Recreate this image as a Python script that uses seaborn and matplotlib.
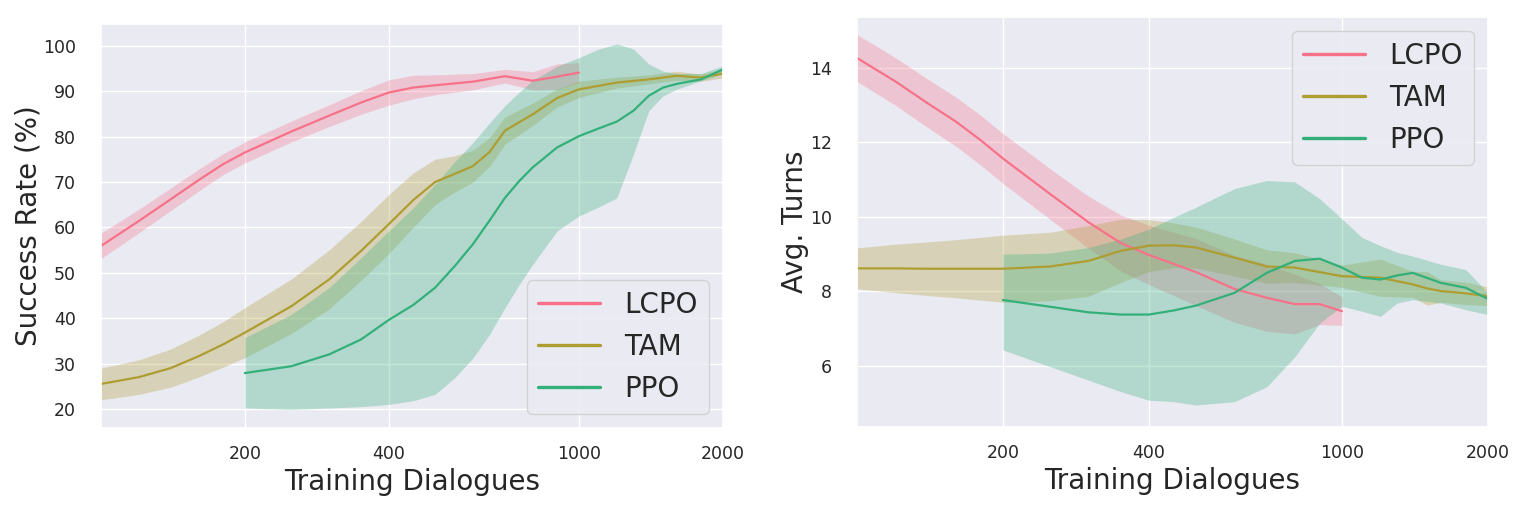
import numpy as np
import pandas as pd
import matplotlib
matplotlib.use("Agg")
import matplotlib.pyplot as plt
import seaborn as sns

# ---------------- data ----------------
series_names = ["LCPO", "TAM", "PPO"]

# Left panel: success rate (%)
sr_lcpo_x = [100, 120, 140, 160, 180, 200, 250, 300, 350, 400, 450, 500, 600, 700, 800, 900, 1000]
sr_lcpo_y = [55.9, 61.4, 66.2, 70.4, 73.9, 76.5, 81.1, 84.6, 87.5, 89.7, 90.8, 91.3, 92.1, 93.3, 92.3, 93.2, 94.1]
sr_lcpo_lo = [53.1, 58.8, 63.7, 68.0, 71.6, 74.2, 78.8, 82.2, 84.9, 86.9, 88.3, 89.2, 90.3, 91.8, 90.3, 90.4, 91.9]
sr_lcpo_hi = [58.7, 64.0, 68.7, 72.8, 76.2, 78.8, 83.4, 87.0, 90.1, 92.5, 93.5, 93.6, 93.9, 94.8, 94.3, 96.0, 96.3]

sr_tam_x = [100, 120, 140, 160, 180, 200, 250, 300, 350, 400, 450, 500, 550, 600, 650, 700, 800, 900, 1000, 1200, 1400, 1600, 1800, 2000]
sr_tam_y = [25.5, 27.0, 29.0, 31.6, 34.2, 36.8, 42.6, 48.5, 54.8, 60.7, 66.0, 70.0, 71.8, 73.5, 76.6, 81.3, 84.9, 88.5, 90.4, 91.9, 92.6, 93.4, 93.0, 93.9]
sr_tam_hw = [3.5, 3.8, 4.2, 4.6, 5.0, 5.5, 6.0, 6.5, 6.5, 6.5, 6.0, 5.0, 4.0, 3.5, 3.2, 3.0, 2.5, 2.0, 1.8, 1.2, 1.0, 1.0, 0.8, 1.0]

sr_ppo_x = [200, 250, 300, 350, 400, 450, 500, 550, 600, 650, 700, 750, 800, 900, 1000, 1100, 1200, 1300, 1400, 1500, 1600, 1800, 2000]
sr_ppo_y = [27.9, 29.4, 32.0, 35.3, 39.6, 42.9, 46.7, 51.5, 56.3, 61.5, 66.5, 70.2, 73.2, 77.6, 80.1, 81.8, 83.3, 85.7, 89.0, 90.8, 91.6, 92.6, 94.8]
sr_ppo_lo = [20.2, 19.9, 20.2, 20.5, 21.0, 21.8, 23.2, 26.9, 31.2, 36.4, 42.3, 47.4, 51.8, 59.2, 62.5, 64.5, 66.5, 76.1, 85.7, 89.0, 90.4, 92.3, 93.8]
sr_ppo_hi = [35.7, 40.8, 46.7, 53.3, 59.2, 64.3, 69.5, 74.5, 78.7, 83.0, 86.8, 89.8, 92.4, 95.5, 97.4, 99.3, 100.4, 99.3, 96.0, 94.4, 93.9, 93.9, 95.6]

# Right panel: average turns
at_lcpo_x = [100, 120, 140, 160, 180, 200, 250, 300, 350, 400, 450, 500, 600, 700, 800, 900, 1000]
at_lcpo_y = [14.27, 13.64, 13.05, 12.56, 12.06, 11.57, 10.62, 9.86, 9.30, 8.98, 8.74, 8.52, 8.07, 7.83, 7.66, 7.66, 7.47]
at_lcpo_hw = [0.63, 0.64, 0.65, 0.66, 0.67, 0.67, 0.68, 0.70, 0.75, 0.80, 0.85, 0.90, 0.90, 0.90, 0.80, 0.55, 0.38]

at_tam_x = [100, 120, 140, 160, 200, 250, 300, 350, 400, 450, 500, 600, 700, 800, 900, 1000, 1200, 1400, 1500, 1600, 1800, 2000]
at_tam_y = [8.62, 8.62, 8.61, 8.61, 8.61, 8.67, 8.82, 9.09, 9.23, 9.24, 9.18, 8.91, 8.67, 8.64, 8.52, 8.41, 8.37, 8.19, 8.08, 8.01, 7.95, 7.87]
at_tam_hw = [0.55, 0.65, 0.72, 0.78, 0.90, 0.92, 0.95, 0.85, 0.70, 0.60, 0.55, 0.50, 0.45, 0.40, 0.35, 0.30, 0.50, 0.35, 0.45, 0.30, 0.30, 0.25]

at_ppo_x = [200, 250, 300, 350, 400, 450, 500, 600, 700, 800, 900, 1000, 1100, 1200, 1300, 1400, 1600, 1800, 2000]
at_ppo_y = [7.77, 7.59, 7.44, 7.38, 7.38, 7.49, 7.62, 7.96, 8.50, 8.82, 8.88, 8.64, 8.37, 8.32, 8.43, 8.50, 8.23, 8.10, 7.80]
at_ppo_lo = [6.43, 5.98, 5.62, 5.31, 5.08, 5.04, 4.95, 5.04, 5.44, 6.25, 7.15, 7.60, 7.47, 7.33, 7.69, 7.78, 7.69, 7.51, 7.38]
at_ppo_hi = [9.00, 9.03, 9.18, 9.41, 9.68, 9.99, 10.26, 10.76, 10.98, 10.94, 10.49, 9.95, 9.45, 9.23, 9.05, 8.95, 8.73, 8.59, 7.96]

xticks = [200, 400, 1000, 2000]
xtick_labels = ["200", "400", "1000", "2000"]

# ---------------- plotting ----------------
sns.set_theme(style="darkgrid")
plt.rcParams['font.family'] = ['DejaVu Sans']
colors = sns.color_palette("husl", 5)[:3]

fig = plt.figure(figsize=(15.27, 5.13), dpi=100)
ax1 = fig.add_axes([0.0661, 0.1657, 0.4073, 0.7875])
ax2 = fig.add_axes([0.5612, 0.1676, 0.4132, 0.7993])


def draw(ax, x, y, lo, hi, color, label):
    df = pd.DataFrame({"x": x, "y": y})
    sns.lineplot(data=df, x="x", y="y", ax=ax, color=color, linewidth=1.6,
                 label=label, errorbar=None)
    ax.fill_between(x, lo, hi, color=color, alpha=0.3, linewidth=0)


# left
draw(ax1, sr_lcpo_x, sr_lcpo_y, sr_lcpo_lo, sr_lcpo_hi, colors[0], series_names[0])
tam_lo = np.array(sr_tam_y) - np.array(sr_tam_hw)
tam_hi = np.array(sr_tam_y) + np.array(sr_tam_hw)
draw(ax1, sr_tam_x, sr_tam_y, tam_lo, tam_hi, colors[1], series_names[1])
draw(ax1, sr_ppo_x, sr_ppo_y, sr_ppo_lo, sr_ppo_hi, colors[2], series_names[2])

# right
l_lo = np.array(at_lcpo_y) - np.array(at_lcpo_hw)
l_hi = np.array(at_lcpo_y) + np.array(at_lcpo_hw)
draw(ax2, at_lcpo_x, at_lcpo_y, l_lo, l_hi, colors[0], series_names[0])
t_lo = np.array(at_tam_y) - np.array(at_tam_hw)
t_hi = np.array(at_tam_y) + np.array(at_tam_hw)
draw(ax2, at_tam_x, at_tam_y, t_lo, t_hi, colors[1], series_names[1])
draw(ax2, at_ppo_x, at_ppo_y, at_ppo_lo, at_ppo_hi, colors[2], series_names[2])

for ax in (ax1, ax2):
    ax.set_xscale("log")
    ax.set_xlim(100, 2000)
    ax.set_xticks(xticks)
    ax.set_xticklabels(xtick_labels)
    ax.xaxis.set_minor_locator(matplotlib.ticker.NullLocator())
    ax.tick_params(axis="x", labelsize=12.5, pad=6)
    ax.tick_params(axis="y", labelsize=12.5, pad=12)
    ax.set_xlabel("Training Dialogues", fontsize=20, labelpad=4)

ax1.set_ylim(15.8, 104.8)
ax1.set_yticks([20, 30, 40, 50, 60, 70, 80, 90, 100])
ax1.set_ylabel("Success Rate (%)", fontsize=20, labelpad=0)
ax2.set_ylim(4.36, 15.37)
ax2.set_yticks([6, 8, 10, 12, 14])
ax2.set_ylabel("Avg. Turns", fontsize=20, labelpad=1)

leg1 = ax1.legend(loc="lower right", fontsize=20, handlelength=2.2, handletextpad=0.9,
                  borderaxespad=0.5)
leg2 = ax2.legend(loc="upper right", fontsize=20, handlelength=2.2, handletextpad=0.9,
                  borderaxespad=0.5)
for leg in (leg1, leg2):
    for h in leg.get_lines():
        h.set_linewidth(2.4)

fig.savefig("out.png", dpi=100)
